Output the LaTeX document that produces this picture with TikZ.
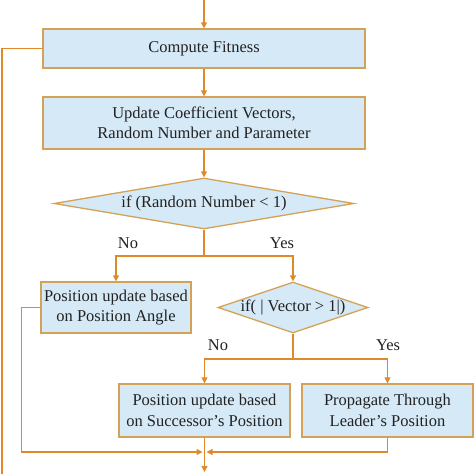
\documentclass[tikz,border=0pt]{standalone}
\usepackage{fontspec}
\setmainfont{Liberation Serif}
\usetikzlibrary{arrows.meta,shapes.geometric}
\definecolor{boxfill}{HTML}{D6E9F6}
\definecolor{boxline}{HTML}{D4A257}
\definecolor{conn}{HTML}{E0892B}
\definecolor{txt}{HTML}{222222}
\begin{document}
\begin{tikzpicture}[x=1pt,y=-1pt,
  every node/.style={text=txt,font=\fontsize{16.5}{20.5}\selectfont},
  procbox/.style={draw=boxline,fill=boxfill,line width=1.3pt,rectangle,inner sep=0pt,align=center},
  decbox/.style={draw=boxline,fill=boxfill,line width=1.3pt,diamond,inner sep=0pt,align=center},
  link/.style={draw=conn,line width=1.3pt},
  arr/.style={link,-{Triangle[length=6pt,width=6pt]}},
  lbl/.style={inner sep=0pt}]
\useasboundingbox (0,0) rectangle (474,474);
\fill[white] (0,0) rectangle (474,474);
\coordinate (top) at (204,0);
\node[procbox,minimum width=322pt,minimum height=39pt] (cf) at (204,48.5) {Compute Fitness};
\node[procbox,minimum width=322pt,minimum height=52pt] (ucv) at (204,123) {Update Coefficient Vectors,\\Random Number and Parameter};
\node[decbox,shape aspect=5.88,minimum width=300pt,minimum height=51pt] (d1) at (204,203.5) {if (Random Number < 1)};
\node[procbox,minimum width=150pt,minimum height=51pt] (pa) at (116,307.5) {Position update based\\on Position Angle};
\node[decbox,shape aspect=2.94,minimum width=150pt,minimum height=51pt] (d2) at (293,307.5) {if( | Vector > 1|)};
\node[procbox,minimum width=171pt,minimum height=53pt] (sp) at (204.5,410.5) {Position update based\\on Successor’s Position};
\node[procbox,minimum width=171pt,minimum height=53pt] (lp) at (387.5,410.5) {Propagate Through\\Leader’s Position};
\node[lbl] (no1) at (128,243) {No};
\node[lbl] (yes1) at (282,243) {Yes};
\node[lbl] (no2) at (218,345) {No};
\node[lbl] (yes2) at (388,345) {Yes};
\coordinate (s1) at (204,256);
\coordinate (s2) at (293,359);
\coordinate (ml) at (202.5,452);
\coordinate (mr) at (206.5,452);
\coordinate (bot) at (204.5,472);
\coordinate (loopc) at (2,48.5);
\coordinate (loopb) at (2,474);
\draw[arr] (top) -- (cf.north);
\draw[arr] (cf.south) -- (ucv.north);
\draw[arr] (ucv.south) -- (d1.north);
\draw[link] (d1.south) -- (s1);
\draw[arr] (s1) -| (pa.north);
\draw[arr] (s1) -| (d2.north);
\draw[link] (d2.south) -- (s2);
\draw[arr] (s2) -| (sp.north);
\draw[arr] (s2) -| (lp.north);
\draw[arr] (pa.west) -- ++(-19,0) |- (ml);
\draw[arr] (lp.south) |- (mr);
\draw[arr] (sp.south) -- (bot);
\draw[link] (cf.west) -- (loopc) -- (loopb);
\end{tikzpicture}
\end{document}
